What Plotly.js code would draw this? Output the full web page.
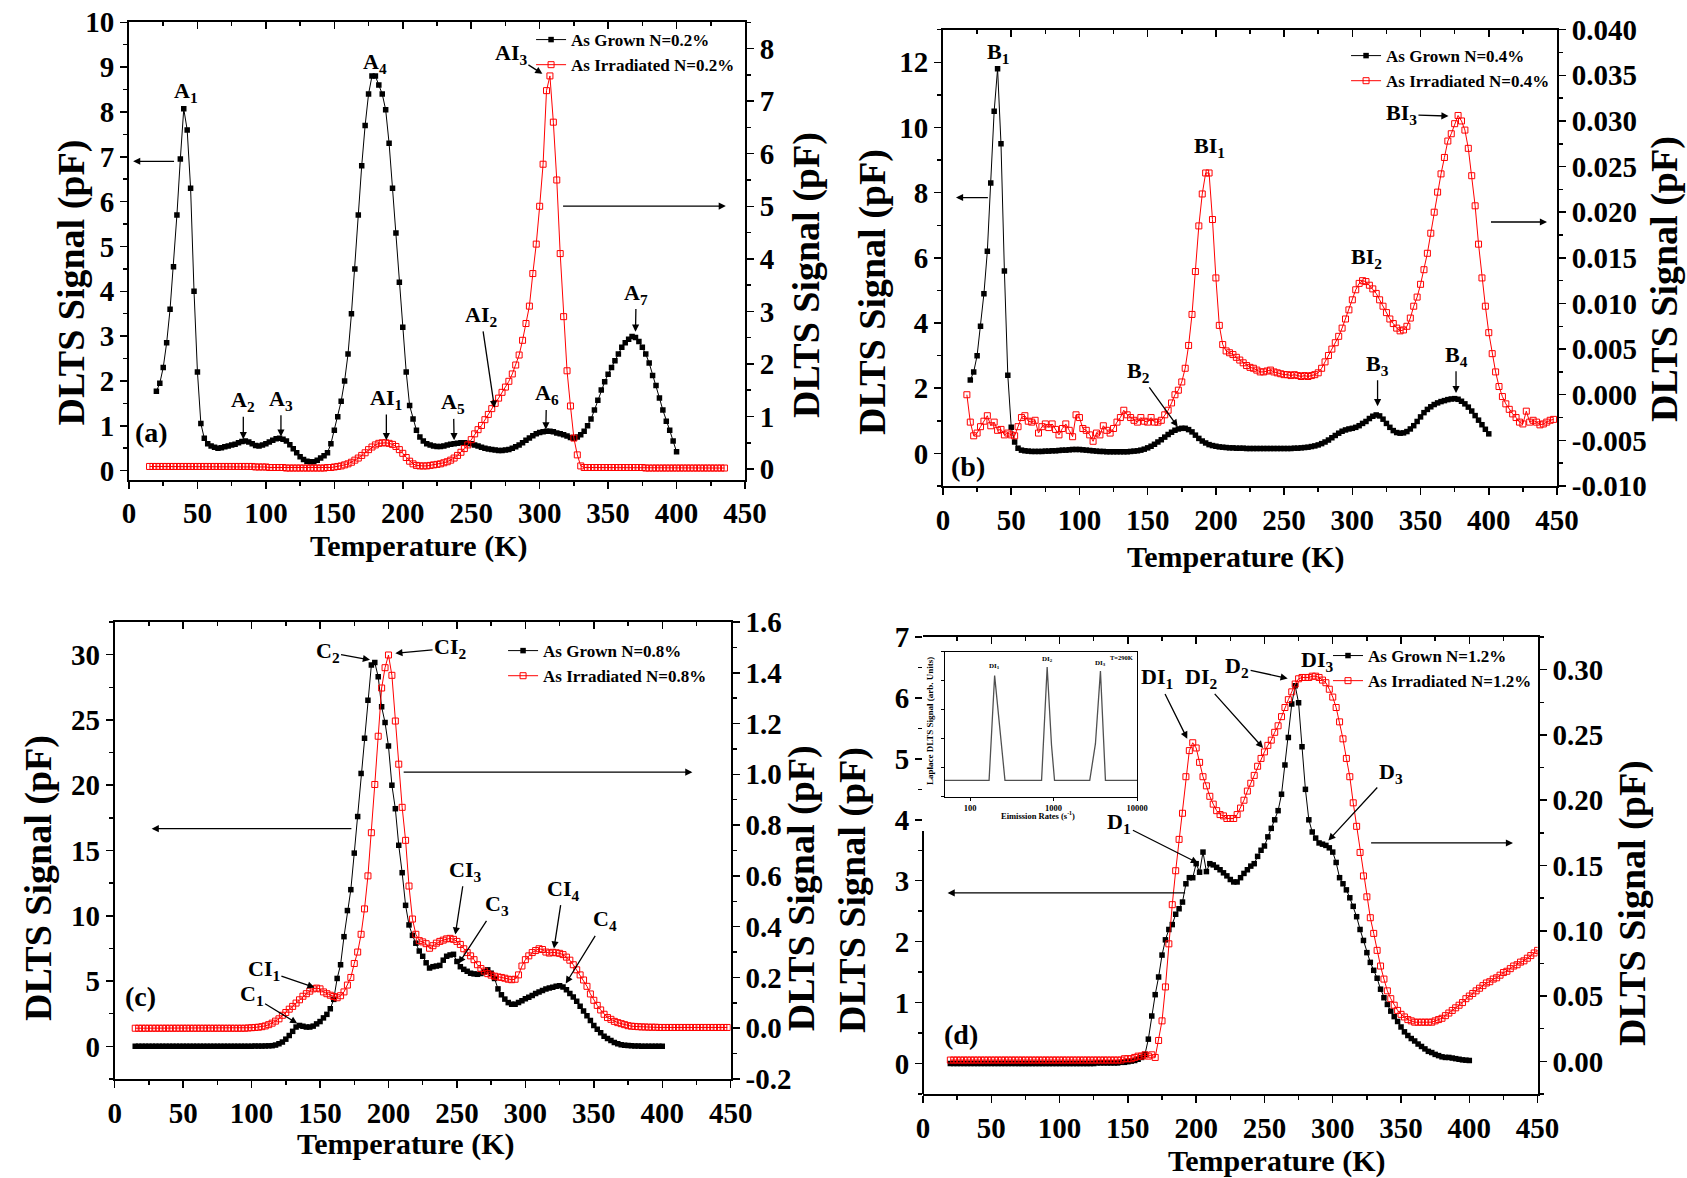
<!DOCTYPE html>
<html><head><meta charset="utf-8">
<script src="https://cdn.plot.ly/plotly-3.0.1.min.js"></script>
<style>html,body{margin:0;padding:0;background:#fff}#chart{width:1687px;height:1178px}</style>
</head><body><div id="chart"></div>
<script>
// Temperature grid (K) shared by all four panels
const temperature = [15,17.5,20,22.5,25,27.5,30,32.5,35,37.5,
40,42.5,45,47.5,50,52.5,55,57.5,60,62.5,
65,67.5,70,72.5,75,77.5,80,82.5,85,87.5,
90,92.5,95,97.5,100,102.5,105,107.5,110,112.5,
115,117.5,120,122.5,125,127.5,130,132.5,135,137.5,
140,142.5,145,147.5,150,152.5,155,157.5,160,162.5,
165,167.5,170,172.5,175,177.5,180,182.5,185,187.5,
190,192.5,195,197.5,200,202.5,205,207.5,210,212.5,
215,217.5,220,222.5,225,227.5,230,232.5,235,237.5,
240,242.5,245,247.5,250,252.5,255,257.5,260,262.5,
265,267.5,270,272.5,275,277.5,280,282.5,285,287.5,
290,292.5,295,297.5,300,302.5,305,307.5,310,312.5,
315,317.5,320,322.5,325,327.5,330,332.5,335,337.5,
340,342.5,345,347.5,350,352.5,355,357.5,360,362.5,
365,367.5,370,372.5,375,377.5,380,382.5,385,387.5,
390,392.5,395,397.5,400,402.5,405,407.5,410,412.5,
415,417.5,420,422.5,425,427.5,430,432.5,435,437.5,
440,442.5,445,447.5,450];

// (a) N=0.2%
const aGrown = [null,null,1.77,1.95,2.3,2.85,3.6,4.55,5.7,6.95,
8.07,7.6,6.3,4.0,2.2,1.05,0.72,0.6,0.55,0.52,
0.5,0.51,0.53,0.55,0.57,0.59,0.62,0.65,0.66,0.64,
0.6,0.56,0.55,0.57,0.6,0.64,0.68,0.71,0.72,0.7,
0.66,0.58,0.49,0.4,0.31,0.25,0.21,0.2,0.2,0.23,
0.28,0.33,0.4,0.6,0.9,1.2,1.55,2.0,2.6,3.5,
4.5,5.7,6.8,7.7,8.4,8.8,8.8,8.6,8.4,8.05,
7.3,6.3,5.3,4.2,3.2,2.2,1.45,1.15,0.9,0.75,
0.66,0.6,0.57,0.55,0.54,0.54,0.55,0.57,0.59,0.6,
0.61,0.62,0.62,0.61,0.6,0.57,0.55,0.52,0.5,0.48,
0.47,0.46,0.45,0.45,0.46,0.47,0.5,0.53,0.57,0.62,
0.68,0.73,0.78,0.82,0.85,0.87,0.88,0.88,0.87,0.84,
0.82,0.8,0.77,0.74,0.72,0.75,0.8,0.88,1.0,1.15,
1.35,1.57,1.8,1.98,2.15,2.3,2.45,2.6,2.75,2.85,
2.93,2.99,2.97,2.88,2.75,2.6,2.4,2.12,1.9,1.62,
1.35,1.1,0.9,0.66,0.42,null,null,null,null,null,
null,null,null,null,null,null,null,null,null,null,
null,null,null,null,null];
const aIrradiated = [0.05,0.05,0.05,0.05,0.05,0.05,0.05,0.05,0.05,0.05,
0.05,0.05,0.05,0.05,0.05,0.05,0.05,0.05,0.05,0.05,
0.05,0.05,0.05,0.05,0.05,0.05,0.05,0.05,0.05,0.05,
0.05,0.04,0.04,0.04,0.04,0.03,0.03,0.03,0.03,0.03,
0.02,0.02,0.02,0.02,0.02,0.02,0.02,0.02,0.02,0.02,
0.02,0.02,0.03,0.03,0.04,0.05,0.06,0.08,0.1,0.13,
0.17,0.21,0.26,0.31,0.37,0.42,0.46,0.49,0.5,0.5,
0.49,0.47,0.43,0.37,0.3,0.22,0.15,0.1,0.07,0.06,
0.06,0.06,0.07,0.08,0.09,0.1,0.12,0.14,0.17,0.21,
0.26,0.32,0.39,0.46,0.56,0.67,0.75,0.83,0.94,1.04,
1.15,1.25,1.35,1.46,1.56,1.67,1.81,1.98,2.17,2.45,
2.77,3.1,3.72,4.28,5.0,5.8,7.2,7.48,6.6,5.5,
4.1,2.9,1.87,1.2,0.59,0.27,0.06,0.03,0.03,0.03,
0.03,0.03,0.03,0.03,0.03,0.03,0.03,0.03,0.03,0.03,
0.03,0.03,0.03,0.03,0.03,0.02,0.02,0.02,0.02,0.02,
0.02,0.02,0.02,0.02,0.02,0.02,0.02,0.02,0.02,0.02,
0.02,0.02,0.02,0.02,0.02,0.02,0.02,0.02,0.02,null,
null,null,null,null,null];

// (b) N=0.4%
const bGrown = [null,null,2.25,2.5,3.0,3.9,4.9,6.2,8.3,10.5,
11.8,9.5,5.6,2.4,0.8,0.35,0.16,0.1,0.08,0.07,
0.06,0.06,0.06,0.06,0.07,0.07,0.08,0.08,0.09,0.1,
0.1,0.11,0.12,0.12,0.12,0.11,0.1,0.09,0.08,0.07,
0.06,0.06,0.05,0.05,0.05,0.05,0.05,0.05,0.05,0.06,
0.07,0.08,0.1,0.13,0.17,0.22,0.28,0.35,0.42,0.5,
0.58,0.65,0.71,0.75,0.77,0.77,0.73,0.66,0.56,0.46,
0.38,0.32,0.27,0.24,0.22,0.2,0.19,0.18,0.17,0.17,
0.16,0.16,0.16,0.15,0.15,0.15,0.15,0.15,0.15,0.15,
0.15,0.15,0.15,0.15,0.15,0.15,0.15,0.16,0.16,0.17,
0.18,0.19,0.21,0.23,0.26,0.3,0.35,0.41,0.48,0.55,
0.62,0.68,0.72,0.75,0.77,0.8,0.85,0.92,0.98,1.07,
1.14,1.18,1.15,1.05,0.92,0.8,0.7,0.64,0.62,0.63,
0.67,0.75,0.85,0.98,1.12,1.25,1.35,1.43,1.5,1.55,
1.59,1.62,1.65,1.67,1.68,1.66,1.6,1.52,1.42,1.3,
1.16,1.02,0.88,0.74,0.6,null,null,null,null,null,
null,null,null,null,null,null,null,null,null,null,
null,null,null,null,null];
const bIrradiated = [null,0.0,-0.003,-0.0045,-0.0042,-0.0035,-0.0029,-0.0023,-0.0034,-0.003,
-0.0039,-0.0038,-0.0044,-0.0042,-0.0044,-0.0045,-0.0035,-0.0025,-0.0023,-0.0029,
-0.003,-0.0028,-0.0042,-0.0035,-0.0032,-0.0036,-0.0032,-0.0038,-0.0044,-0.0037,
-0.0032,-0.0039,-0.0046,-0.0022,-0.0025,-0.0037,-0.0039,-0.0044,-0.0051,-0.0042,
-0.0044,-0.0034,-0.0039,-0.0042,-0.0037,-0.003,-0.0025,-0.0017,-0.0022,-0.0025,
-0.0028,-0.003,-0.0025,-0.0029,-0.003,-0.0025,-0.003,-0.003,-0.0028,-0.0022,
-0.0017,-0.0009,0.0,0.0005,0.0014,0.0029,0.0054,0.0088,0.0135,0.0185,
0.022,0.0243,0.0243,0.0192,0.0128,0.0076,0.0055,0.0048,0.0046,0.0044,
0.0041,0.0038,0.0035,0.0032,0.003,0.0029,0.0027,0.0025,0.0025,0.0026,
0.0027,0.0025,0.0024,0.0023,0.0022,0.0022,0.0021,0.0022,0.0021,0.002,
0.0021,0.002,0.0021,0.0022,0.0024,0.0029,0.0036,0.0043,0.005,0.0057,
0.0064,0.0073,0.0083,0.0093,0.0104,0.0115,0.0122,0.0125,0.0124,0.012,
0.0116,0.0111,0.0104,0.0097,0.009,0.0083,0.0078,0.0073,0.007,0.0071,
0.0075,0.0084,0.0097,0.0107,0.0121,0.0137,0.0155,0.0177,0.02,0.0222,
0.0242,0.026,0.0278,0.0286,0.0297,0.0306,0.03,0.029,0.027,0.024,
0.0207,0.0165,0.0128,0.0097,0.0068,0.0045,0.0025,0.0009,-0.0002,-0.001,
-0.0016,-0.0021,-0.0025,-0.003,-0.0032,-0.0018,-0.003,-0.0028,-0.003,-0.0033,
-0.0032,-0.003,-0.0028,-0.0027,null];

// (c) N=0.8%
const cGrown = [0,0,0,0,0,0,0,0,0,0,
0,0,0,0,0,0,0,0,0,0,
0,0,0,0,0.01,0.01,0.01,0.01,0.01,0.01,
0.01,0.01,0.01,0.01,0.01,0.02,0.02,0.02,0.03,0.04,
0.05,0.1,0.2,0.33,0.55,0.83,1.15,1.48,1.6,1.54,
1.48,1.48,1.55,1.72,1.9,2.18,2.45,2.88,3.6,5.2,
6.25,8.4,10.4,12.0,14.8,17.6,20.9,23.6,26.5,29.2,
29.4,28.3,26.0,24.8,23.0,20.0,18.2,15.4,13.3,10.8,
9.3,8.5,7.9,7.3,6.9,6.4,6.0,6.1,6.15,6.2,
6.6,6.9,7.0,7.05,6.5,6.1,5.9,5.75,5.6,5.55,
5.52,5.58,5.7,5.86,5.6,5.2,4.4,3.95,3.62,3.35,
3.22,3.22,3.36,3.5,3.64,3.77,3.9,4.04,4.17,4.28,
4.39,4.47,4.52,4.6,4.65,4.55,4.33,4.05,3.78,3.45,
3.08,2.7,2.35,1.98,1.6,1.32,1.05,0.78,0.6,0.44,
0.3,0.2,0.13,0.09,0.06,0.04,0.03,0.02,0.01,0.01,
0.01,0,0,0,0,null,null,null,null,null,
null,null,null,null,null,null,null,null,null,null,
null,null,null,null,null];
const cIrradiated = [0,0,0,0,0,0,0,0,0,0,
0,0,0,0,0,0,0,0,0,0,
0,0,0,0,0,0,0,0,0,0,
0,0,0,0.001,0.002,0.003,0.004,0.006,0.009,0.014,
0.02,0.028,0.037,0.051,0.062,0.075,0.086,0.099,0.112,0.126,
0.136,0.146,0.155,0.158,0.155,0.143,0.136,0.13,0.125,0.12,
0.128,0.143,0.17,0.2,0.255,0.3,0.37,0.47,0.6,0.77,
0.96,1.15,1.34,1.42,1.47,1.39,1.21,1.04,0.87,0.74,
0.56,0.43,0.37,0.345,0.34,0.333,0.315,0.325,0.335,0.342,
0.347,0.352,0.354,0.35,0.342,0.33,0.313,0.298,0.285,0.27,
0.25,0.235,0.225,0.215,0.209,0.205,0.202,0.2,0.197,0.193,
0.191,0.193,0.21,0.245,0.27,0.285,0.298,0.306,0.313,0.31,
0.3,0.296,0.299,0.297,0.295,0.29,0.28,0.268,0.25,0.23,
0.21,0.19,0.165,0.135,0.11,0.09,0.072,0.055,0.042,0.035,
0.027,0.022,0.018,0.014,0.01,0.008,0.007,0.006,0.005,0.005,
0.004,0.004,0.004,0.003,0.003,0.003,0.003,0.003,0.003,0.003,
0.003,0.003,0.003,0.003,0.003,0.003,0.003,0.003,0.003,0.003,
0.003,0.003,0.003,0.003,null];

// (d) N=1.2%
const dGrown = [null,null,0,0,0,0,0,0,0,0,
0,0,0,0,0,0,0,0,0,0,
0,0,0,0,0,0,0,0,0,0,
0,0,0,0,0,0,0,0,0,0,
0,0,0,0,0,0.01,0.01,0.01,0.01,0.01,
0.01,0.01,0.02,0.02,0.03,0.04,0.05,0.07,0.1,0.15,
0.4,0.78,1.13,1.42,1.78,2.03,2.2,2.28,2.45,2.54,
2.65,2.95,3.05,3.05,3.28,3.14,3.47,3.15,3.28,3.26,
3.22,3.18,3.13,3.08,3.02,2.98,2.98,3.05,3.12,3.18,
3.24,3.28,3.4,3.5,3.57,3.72,3.86,4.0,4.15,4.42,
4.9,5.35,5.9,6.2,5.92,5.2,4.5,4.0,3.8,3.7,
3.62,3.6,3.58,3.54,3.47,3.3,3.05,2.95,2.85,2.72,
2.58,2.41,2.2,2.02,1.82,1.66,1.53,1.4,1.22,1.08,
0.97,0.86,0.77,0.69,0.6,0.52,0.46,0.41,0.37,0.32,
0.28,0.24,0.2,0.18,0.15,0.13,0.11,0.1,0.1,0.09,
0.08,0.07,0.06,0.055,0.05,null,null,null,null,null,
null,null,null,null,null,null,null,null,null,null,
null,null,null,null,null];
const dIrradiated = [null,null,0.001,0.001,0.001,0.001,0.001,0.001,0.001,0.001,
0.001,0.001,0.001,0.001,0.001,0.001,0.001,0.001,0.001,0.001,
0.001,0.001,0.001,0.001,0.001,0.001,0.001,0.001,0.001,0.001,
0.001,0.001,0.001,0.001,0.001,0.001,0.001,0.001,0.001,0.001,
0.001,0.001,0.001,0.001,0.001,0.001,0.001,0.001,0.001,0.001,
0.001,0.001,0.001,0.002,0.002,0.002,0.003,0.004,0.004,0.005,
0.004,0.005,0.003,0.016,0.031,0.057,0.09,0.12,0.146,0.17,
0.19,0.218,0.238,0.244,0.24,0.229,0.218,0.211,0.203,0.197,
0.192,0.189,0.188,0.186,0.186,0.186,0.189,0.194,0.2,0.207,
0.213,0.219,0.226,0.232,0.237,0.242,0.246,0.252,0.257,0.264,
0.271,0.277,0.283,0.289,0.293,0.294,0.294,0.294,0.295,0.295,
0.294,0.292,0.29,0.285,0.279,0.271,0.26,0.247,0.232,0.218,
0.198,0.18,0.16,0.142,0.126,0.11,0.098,0.085,0.073,0.063,
0.054,0.048,0.043,0.039,0.036,0.034,0.032,0.031,0.03,0.03,
0.03,0.03,0.03,0.03,0.031,0.032,0.033,0.035,0.037,0.039,
0.041,0.043,0.045,0.048,0.05,0.052,0.054,0.056,0.058,0.06,
0.061,0.063,0.064,0.066,0.068,0.069,0.071,0.073,0.074,0.076,
0.077,0.079,0.081,0.083,0.085];

// Inset of (d): Laplace DLTS spectrum
const insetRates = [50,169,197,262,719,839,946,1028,2716,3177,3648,4188,10000];
const insetSignal = [0.112,0.112,0.837,0.112,0.112,0.896,0.355,0.112,0.112,0.366,0.868,0.112,0.112];
const insetTickVals = [100,1000,10000];
const insetTickText = ['100','1000','10000'];

// Tick labels for the right axes that show negative values
const bRightTickVals = [-0.01,-0.005,0,0.005,0.01,0.015,0.02,0.025,0.03,0.035,0.04];
const bRightTickText = ['-0.010','-0.005','0.000','0.005','0.010','0.015','0.020','0.025','0.030','0.035','0.040'];
const cRightTickVals = [-0.2,0,0.2,0.4,0.6,0.8,1.0,1.2,1.4,1.6];
const cRightTickText = ['-0.2','0.0','0.2','0.4','0.6','0.8','1.0','1.2','1.4','1.6'];

const seriesNames = {
  a:['As Grown N=0.2%','As Irradiated N=0.2%'],
  b:['As Grown N=0.4%','As Irradiated N=0.4%'],
  c:['As Grown N=0.8%','As Irradiated N=0.8%'],
  d:['As Grown N=1.2%','As Irradiated N=1.2%']
};

const FONT = '"Liberation Serif", "Times New Roman", serif';
function tf(size){ return {family:FONT, size:size, color:'#000', weight:'bold'}; }

function grownTrace(y, xa, ya, name, leg){
  return {type:'scatter', mode:'lines+markers', x:temperature, y:y, xaxis:xa, yaxis:ya, name:name, legend:leg,
    line:{color:'#000', width:1}, marker:{symbol:'square', size:5.5, color:'#000'}, hoverinfo:'skip'};
}
function irrTrace(y, xa, ya, name, leg){
  return {type:'scatter', mode:'lines+markers', x:temperature, y:y, xaxis:xa, yaxis:ya, name:name, legend:leg,
    line:{color:'#ff0000', width:1}, marker:{symbol:'square-open', size:6, color:'#ff0000', line:{width:1, color:'#ff0000'}}, hoverinfo:'skip'};
}
function dummy(xa, ya){ return {type:'scatter', x:[], y:[], xaxis:xa, yaxis:ya, showlegend:false, hoverinfo:'skip'}; }

const traces = [
  grownTrace(aGrown,'x','y',seriesNames.a[0],'legend'),
  irrTrace(aIrradiated,'x','y2',seriesNames.a[1],'legend'),
  grownTrace(bGrown,'x3','y3',seriesNames.b[0],'legend2'),
  irrTrace(bIrradiated,'x3','y4',seriesNames.b[1],'legend2'),
  grownTrace(cGrown,'x5','y5',seriesNames.c[0],'legend3'),
  irrTrace(cIrradiated,'x5','y6',seriesNames.c[1],'legend3'),
  grownTrace(dGrown,'x7','y7',seriesNames.d[0],'legend4'),
  irrTrace(dIrradiated,'x7','y8',seriesNames.d[1],'legend4'),
  {type:'scatter', mode:'lines', x:insetRates, y:insetSignal, xaxis:'x9', yaxis:'y9', showlegend:false,
    line:{color:'#505050', width:1.3}, hoverinfo:'skip'},
  dummy('x2','y'), dummy('x4','y3'), dummy('x6','y5'), dummy('x8','y7')
];

const TK = {ticklen:7, tickwidth:1.5, tickcolor:'#000'};
function bottomX(domain, anchor){
  return Object.assign({domain:domain, anchor:anchor, range:[0,450], tick0:0, dtick:50, ticks:'outside',
    minor:{dtick:25, tick0:0, ticks:'outside', ticklen:4, tickwidth:1.5, tickcolor:'#000'},
    showline:true, linewidth:2, linecolor:'#000', showgrid:false, zeroline:false, tickfont:tf(29), fixedrange:true}, TK);
}
function topX(over, anchor){
  return Object.assign({overlaying:over, anchor:anchor, side:'top', range:[0,450], tick0:0, dtick:50, ticks:'inside',
    minor:{dtick:25, tick0:0, ticks:'inside', ticklen:4, tickwidth:1.5, tickcolor:'#000'},
    showline:true, linewidth:2, linecolor:'#000', showgrid:false, zeroline:false, showticklabels:false, fixedrange:true}, TK);
}
function leftY(domain, anchor, range, dtick, mdt, extra){
  return Object.assign({domain:domain, anchor:anchor, side:'left', range:range, tick0:0, dtick:dtick, ticks:'outside',
    minor:{dtick:mdt, tick0:0, ticks:'outside', ticklen:4, tickwidth:1.5, tickcolor:'#000'},
    showline:true, linewidth:2, linecolor:'#000', showgrid:false, zeroline:false, tickfont:tf(29), fixedrange:true}, TK, extra||{});
}
function rightY(over, anchor, range, dtick, mdt, extra){
  return Object.assign({overlaying:over, anchor:anchor, side:'right', range:range, tick0:0, dtick:dtick, ticks:'outside',
    minor:{dtick:mdt, tick0:0, ticks:'outside', ticklen:4, tickwidth:1.5, tickcolor:'#000'},
    showline:true, linewidth:2, linecolor:'#000', showgrid:false, zeroline:false, tickfont:tf(29), fixedrange:true}, TK, extra||{});
}

// plain label
function lbl(xr, yr, x, y, text, size){
  return {xref:xr, yref:yr, x:x, y:y, text:text, showarrow:false, font:tf(size||22)};
}
// label at (lx,ly) with an arrow pointing to (hx,hy)
function lblArr(xr, yr, lx, ly, hx, hy, text){
  return {xref:xr, yref:yr, axref:xr, ayref:yr, ax:lx, ay:ly, x:hx, y:hy, text:text, showarrow:true,
    font:tf(22), arrowhead:2, arrowsize:1.1, arrowwidth:1.3, arrowcolor:'#000', standoff:0, startstandoff:0};
}
// bare arrow pointing toward an axis
function arr(xr, yr, ax, ay, x, y){
  return {xref:xr, yref:yr, axref:xr, ayref:yr, ax:ax, ay:ay, x:x, y:y, text:'', showarrow:true,
    arrowhead:2, arrowsize:1.1, arrowwidth:1.3, arrowcolor:'#000', standoff:0, startstandoff:0};
}
function ptitle(x, y, text, size, angle){
  return {xref:'paper', yref:'paper', x:x, y:y, text:text, showarrow:false, font:tf(size), textangle:angle||0, xanchor:'center', yanchor:'middle'};
}

const YT = 'DLTS Signal (pF)', XT = 'Temperature (K)';
const annotations = [
  // axis titles
  ptitle(0.2478,0.5365,XT,30), ptitle(0.7321,0.5272,XT,30), ptitle(0.2401,0.0289,XT,30), ptitle(0.7564,0.0144,XT,30),
  ptitle(0.0421,0.7602,YT,38,-90), ptitle(0.4784,0.7666,YT,38,-90),
  ptitle(0.5169,0.7521,YT,38,-90), ptitle(0.9870,0.7632,YT,38,-90),
  ptitle(0.0231,0.2547,YT,38,-90), ptitle(0.4755,0.2462,YT,38,-90),
  ptitle(0.5056,0.2445,YT,38,-90), ptitle(0.9674,0.2334,YT,38,-90),
  // (a)
  lbl('x','y',42,8.45,'A<sub>1</sub>'), lbl('x','y',180,9.1,'A<sub>4</sub>'), lbl('x','y',16.6,0.84,'(a)',28),
  lblArr('x','y',83.5,1.55,83.5,0.7,'A<sub>2</sub>'),
  lblArr('x','y',111,1.58,111,0.76,'A<sub>3</sub>'),
  lblArr('x','y',188,1.6,188,0.68,'AI<sub>1</sub>'),
  lblArr('x','y',237,1.5,237.5,0.68,'A<sub>5</sub>'),
  lblArr('x','y',305,1.7,304.5,0.92,'A<sub>6</sub>'),
  lblArr('x','y',370.5,3.95,370,3.1,'A<sub>7</sub>'),
  lblArr('x','y',257,3.45,267,1.4,'AI<sub>2</sub>'),
  lblArr('x','y',279,9.3,302,8.85,'AI<sub>3</sub>'),
  arr('x','y',34,6.9,3,6.9), arr('x','y',316,5.9,436,5.9),
  // (b)
  lbl('x3','y3',40,12.3,'B<sub>1</sub>'), lbl('x3','y3',195,9.4,'BI<sub>1</sub>'), lbl('x3','y3',310.6,6.0,'BI<sub>2</sub>'),
  lbl('x3','y3',18.6,-0.4,'(b)',28),
  lblArr('x3','y3',143,2.5,172,0.82,'B<sub>2</sub>'),
  lblArr('x3','y3',318.5,2.72,318.5,1.45,'B<sub>3</sub>'),
  lblArr('x3','y3',376,3.0,376,1.85,'B<sub>4</sub>'),
  lblArr('x3','y3',336,10.4,370.5,10.35,'BI<sub>3</sub>'),
  arr('x3','y3',34,7.85,9.5,7.85), arr('x3','y3',400.5,7.1,442.7,7.1),
  // (c)
  lbl('x5','y5',19,3.8,'(c)',28),
  lblArr('x5','y5',155.5,30.2,186.5,29.6,'C<sub>2</sub>'),
  lblArr('x5','y5',245,30.5,205,30.1,'CI<sub>2</sub>'),
  lblArr('x5','y5',109,5.85,146,4.5,'CI<sub>1</sub>'),
  lblArr('x5','y5',100,3.9,133.4,1.75,'C<sub>1</sub>'),
  lblArr('x5','y5',256,13.45,248.8,8.56,'CI<sub>3</sub>'),
  lblArr('x5','y5',279,10.8,251.2,6.34,'C<sub>3</sub>'),
  lblArr('x5','y5',327.5,12.0,320.9,7.49,'CI<sub>4</sub>'),
  lblArr('x5','y5',358,9.65,329.5,4.81,'C<sub>4</sub>'),
  arr('x5','y5',174,16.67,27,16.67), arr('x5','y5',210,21,422,21),
  // (d)
  lbl('x7','y7',288.8,6.6,'DI<sub>3</sub>'), lbl('x7','y7',28,0.48,'(d)',28),
  lblArr('x7','y7',171.6,6.32,193.5,5.33,'DI<sub>1</sub>'),
  lblArr('x7','y7',203.4,6.32,249,5.18,'DI<sub>2</sub>'),
  lblArr('x7','y7',230,6.5,267,6.32,'D<sub>2</sub>'),
  lblArr('x7','y7',143.8,3.94,201.4,3.29,'D<sub>1</sub>'),
  lblArr('x7','y7',342.5,4.77,296.8,3.66,'D<sub>3</sub>'),
  arr('x7','y7',193,2.8,18,2.8), arr('x7','y7',327,3.62,432,3.62),
  // inset texts
  {xref:'x9', yref:'y9', x:Math.log10(197), y:0.9, text:'DI<sub>1</sub>', showarrow:false, font:tf(7)},
  {xref:'x9', yref:'y9', x:Math.log10(839), y:0.955, text:'DI<sub>2</sub>', showarrow:false, font:tf(7)},
  {xref:'x9', yref:'y9', x:Math.log10(3648), y:0.925, text:'DI<sub>3</sub>', showarrow:false, font:tf(7)},
  {xref:'x9', yref:'y9', x:Math.log10(6600), y:0.962, text:'T=290K', showarrow:false, font:tf(6.5)},
  ptitle(0.5513,0.3879,'Laplace DLTS Signal (arb. Units)',9,-90),
  ptitle(0.6153,0.3081,'Eimission Rates (s<sup>-1</sup>)',8.5)
];

function legendAt(x, y){
  return {x:x, y:y, xanchor:'left', yanchor:'top', bgcolor:'rgba(0,0,0,0)', borderwidth:0, font:tf(17), itemwidth:30, tracegroupgap:0};
}

const layout = {
  width:1687, height:1178, autosize:false, margin:{l:0,r:0,t:0,b:0},
  paper_bgcolor:'#fff', plot_bgcolor:'#fff', font:{family:FONT, size:20, color:'#000', weight:'bold'},
  showlegend:true, hovermode:false,
  xaxis: bottomX([0.07647,0.44161],'y'),
  xaxis2: topX('x','y'),
  yaxis: leftY([0.59287,0.98107],'x',[-0.2,10],1,0.5),
  yaxis2: rightY('y','x',[-0.2,8.5],1,0.5),
  xaxis3: bottomX([0.55898,0.92294],'y3'),
  xaxis4: topX('x3','y3'),
  yaxis3: leftY([0.58744,0.97479],'x3',[-1,13],2,1),
  yaxis4: rightY('y3','x3',[-0.01,0.04],0.005,0.0025,{tickmode:'array', tickvals:bRightTickVals, ticktext:bRightTickText}),
  xaxis5: bottomX([0.06799,0.43314],'y5'),
  xaxis6: topX('x5','y5'),
  yaxis5: leftY([0.08404,0.47199],'x5',[-2.5,32.5],5,2.5),
  yaxis6: rightY('y5','x5',[-0.2,1.6],0.2,0.1,{tickmode:'array', tickvals:cRightTickVals, ticktext:cRightTickText}),
  xaxis7: bottomX([0.54713,0.91144],'y7'),
  xaxis8: topX('x7','y7'),
  yaxis7: leftY([0.07131,0.45925],'x7',[-0.5,7],1,0.5,{showline:false}),
  yaxis8: rightY('y7','x7',[-0.025,0.325],0.05,0.025,{tickformat:'.2f'}),
  xaxis9: {domain:[0.56017,0.67398], anchor:'y9', type:'log', range:[1.7,4], tickmode:'array', tickvals:insetTickVals, ticktext:insetTickText,
    ticks:'outside', ticklen:3, tickwidth:1, tickcolor:'#000', showline:true, mirror:true, linewidth:1, linecolor:'#000',
    showgrid:false, zeroline:false, tickfont:tf(8.5), fixedrange:true},
  yaxis9: {domain:[0.32377,0.44652], anchor:'x9', range:[0,1], dtick:0.2, ticks:'outside', ticklen:3, tickwidth:1, tickcolor:'#000',
    showticklabels:false, showline:true, mirror:true, linewidth:1, linecolor:'#000', showgrid:false, zeroline:false, fixedrange:true},
  legend: legendAt(0.3148,0.9813),
  legend2: legendAt(0.7979,0.9677),
  legend3: legendAt(0.2982,0.4626),
  legend4: legendAt(0.7872,0.4584),
  annotations: annotations,
  shapes: [
    {type:'line', xref:'paper', yref:'paper', x0:0.54713, x1:0.54713, y0:0.07131, y1:0.29457, line:{color:'#000', width:2}, layer:'above'}
  ]
};

Plotly.newPlot('chart', traces, layout, {displayModeBar:false, staticPlot:true});
</script></body></html>
